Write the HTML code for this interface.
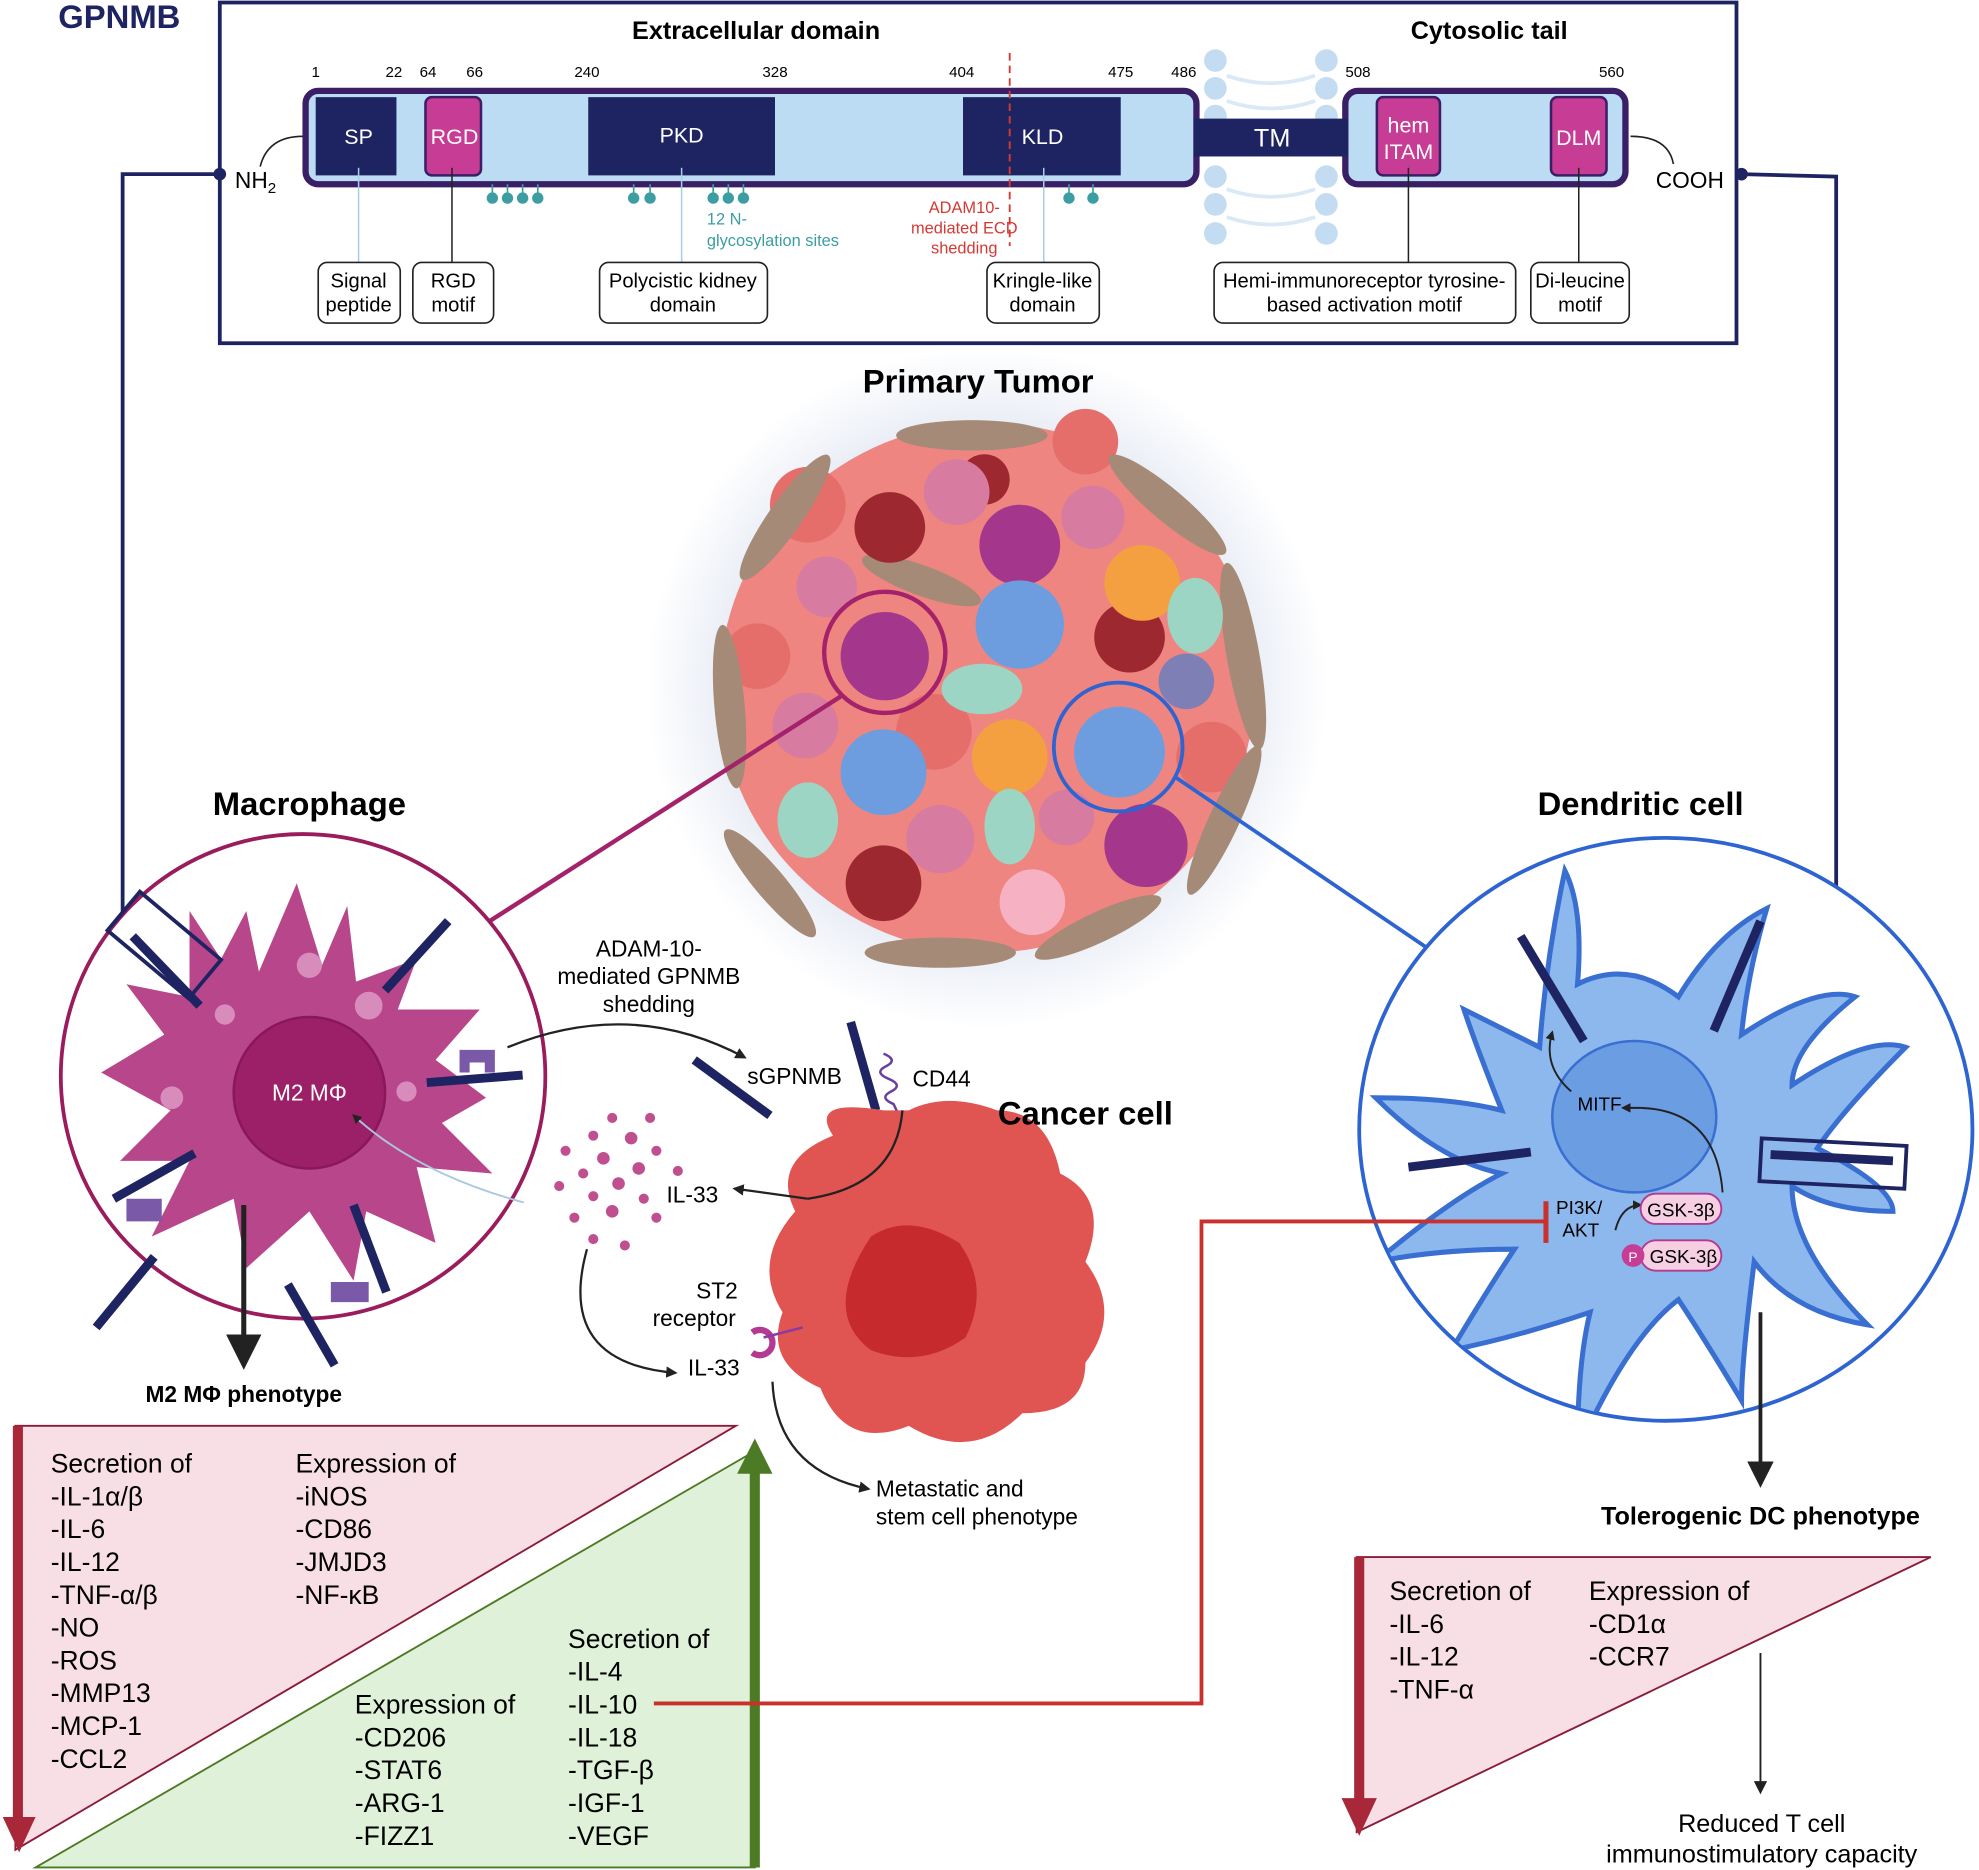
<!DOCTYPE html>
<html><head><meta charset="utf-8"><style>
html,body{margin:0;padding:0;background:#fff;}
svg{display:block;font-family:"Liberation Sans",sans-serif;}
</style></head><body>
<svg width="1979" height="1870" viewBox="0 0 1568 1482" xmlns="http://www.w3.org/2000/svg">
<defs>
<radialGradient id="glow" cx="50%" cy="50%" r="50%">
<stop offset="0.6" stop-color="#d9e0ee"/><stop offset="1" stop-color="#ffffff"/>
</radialGradient>
<marker id="ah" viewBox="0 0 10 10" refX="8" refY="5" markerWidth="7" markerHeight="7" orient="auto"><path d="M0,0L10,5L0,10z" fill="#222"/></marker>
<marker id="ahb" viewBox="0 0 10 10" refX="8" refY="5" markerWidth="5" markerHeight="5" orient="auto"><path d="M0,0L10,5L0,10z" fill="#222"/></marker>
<clipPath id="dcclip"><ellipse cx="1320" cy="895" rx="242" ry="230"/></clipPath>
<clipPath id="mclip"><circle cx="240" cy="853" r="191"/></clipPath>
</defs>

<!-- GPNMB box -->
<text x="46" y="22" font-size="26" font-weight="bold" fill="#1e2461">GPNMB</text>
<rect x="174" y="2" width="1202" height="270" fill="#fff" stroke="#1e2461" stroke-width="3"/>
<text x="599" y="31" font-size="20" font-weight="bold" text-anchor="middle">Extracellular domain</text>
<text x="1180" y="31" font-size="20" font-weight="bold" text-anchor="middle">Cytosolic tail</text>
<g font-size="12" text-anchor="middle">
<text x="250" y="61">1</text><text x="312" y="61">22</text><text x="339" y="61">64</text><text x="376" y="61">66</text><text x="465" y="61">240</text><text x="614" y="61">328</text><text x="762" y="61">404</text><text x="888" y="61">475</text><text x="938" y="61">486</text><text x="1076" y="61">508</text><text x="1277" y="61">560</text>
</g>
<g fill="#c4dcf2">
<circle cx="963" cy="48" r="9"/><circle cx="963" cy="70" r="9"/><circle cx="963" cy="92" r="9"/><circle cx="963" cy="140" r="9"/><circle cx="963" cy="162" r="9"/><circle cx="963" cy="185" r="9"/>
<circle cx="1051" cy="48" r="9"/><circle cx="1051" cy="70" r="9"/><circle cx="1051" cy="92" r="9"/><circle cx="1051" cy="140" r="9"/><circle cx="1051" cy="162" r="9"/><circle cx="1051" cy="185" r="9"/>
</g>
<g stroke="#dbe9f6" stroke-width="3" fill="none">
<path d="M972,60 Q1007,72 1042,60"/><path d="M972,80 Q1007,92 1042,80"/><path d="M972,150 Q1007,162 1042,150"/><path d="M972,172 Q1007,184 1042,172"/>
</g>
<rect x="242" y="72" width="706" height="74" rx="10" fill="#bcdcf3" stroke="#3a1f66" stroke-width="5"/>
<rect x="1066" y="72" width="222" height="74" rx="10" fill="#bcdcf3" stroke="#3a1f66" stroke-width="5"/>
<rect x="946" y="94" width="122" height="30" fill="#1e2461"/>
<text x="1008" y="116" font-size="20" fill="#fff" text-anchor="middle">TM</text>
<rect x="250" y="77" width="64" height="62" fill="#1e2461"/><text x="284" y="114" font-size="17" fill="#fff" text-anchor="middle">SP</text>
<rect x="337" y="77" width="44" height="62" rx="5" fill="#c73c94" stroke="#3a1f66" stroke-width="2"/><text x="360" y="114" font-size="17" fill="#fff" text-anchor="middle">RGD</text>
<rect x="466" y="77" width="148" height="62" fill="#1e2461"/><text x="540" y="113" font-size="17" fill="#fff" text-anchor="middle">PKD</text>
<rect x="763" y="77" width="125" height="62" fill="#1e2461"/><text x="826" y="114" font-size="17" fill="#fff" text-anchor="middle">KLD</text>
<rect x="1091" y="77" width="50" height="62" rx="5" fill="#c73c94" stroke="#3a1f66" stroke-width="2"/><text x="1116" y="105" font-size="17" fill="#fff" text-anchor="middle">hem</text><text x="1116" y="126" font-size="17" fill="#fff" text-anchor="middle">ITAM</text>
<rect x="1229" y="77" width="44" height="62" rx="5" fill="#c73c94" stroke="#3a1f66" stroke-width="2"/><text x="1251" y="115" font-size="17" fill="#fff" text-anchor="middle">DLM</text>
<line x1="800" y1="42" x2="800" y2="195" stroke="#d43a33" stroke-width="1.5" stroke-dasharray="6,4"/>
<g fill="#3c9da3" stroke="#3c9da3">
<g stroke-width="1.3"><line x1="390" y1="146" x2="390" y2="156"/><line x1="402" y1="146" x2="402" y2="156"/><line x1="414" y1="146" x2="414" y2="156"/><line x1="426" y1="146" x2="426" y2="156"/><line x1="502" y1="146" x2="502" y2="156"/><line x1="515" y1="146" x2="515" y2="156"/><line x1="565" y1="146" x2="565" y2="156"/><line x1="577" y1="146" x2="577" y2="156"/><line x1="589" y1="146" x2="589" y2="156"/><line x1="847" y1="146" x2="847" y2="156"/><line x1="866" y1="146" x2="866" y2="156"/></g>
<circle cx="390" cy="157" r="4"/><circle cx="402" cy="157" r="4"/><circle cx="414" cy="157" r="4"/><circle cx="426" cy="157" r="4"/><circle cx="502" cy="157" r="4"/><circle cx="515" cy="157" r="4"/><circle cx="565" cy="157" r="4"/><circle cx="577" cy="157" r="4"/><circle cx="589" cy="157" r="4"/><circle cx="847" cy="157" r="4"/><circle cx="866" cy="157" r="4"/>
</g>
<text x="560" y="178" font-size="13" fill="#3c9da3">12 N-</text><text x="560" y="195" font-size="13" fill="#3c9da3">glycosylation sites</text>
<text x="764" y="169" font-size="13" fill="#d43a33" text-anchor="middle">ADAM10-</text><text x="764" y="185" font-size="13" fill="#d43a33" text-anchor="middle">mediated ECD</text><text x="764" y="201" font-size="13" fill="#d43a33" text-anchor="middle">shedding</text>
<g stroke-width="1.2">
<line x1="284" y1="133" x2="284" y2="208" stroke="#a8cde6"/><line x1="540" y1="133" x2="540" y2="208" stroke="#a8cde6"/><line x1="827" y1="133" x2="827" y2="208" stroke="#a8cde6"/>
<line x1="358" y1="133" x2="358" y2="208" stroke="#222"/><line x1="1116" y1="133" x2="1116" y2="208" stroke="#222"/><line x1="1251" y1="133" x2="1251" y2="208" stroke="#222"/>
</g>
<g fill="#fff" stroke="#222" stroke-width="1.3">
<rect x="252" y="208" width="65" height="48" rx="7"/><rect x="327" y="208" width="64" height="48" rx="7"/><rect x="475" y="208" width="133" height="48" rx="7"/><rect x="782" y="208" width="89" height="48" rx="7"/><rect x="962" y="208" width="239" height="48" rx="7"/><rect x="1213" y="208" width="78" height="48" rx="7"/>
</g>
<g font-size="16" text-anchor="middle">
<text x="284" y="228">Signal</text><text x="284" y="247">peptide</text>
<text x="359" y="228">RGD</text><text x="359" y="247">motif</text>
<text x="541" y="228">Polycistic kidney</text><text x="541" y="247">domain</text>
<text x="826" y="228">Kringle-like</text><text x="826" y="247">domain</text>
<text x="1081" y="228">Hemi-immunoreceptor tyrosine-</text><text x="1081" y="247">based activation motif</text>
<text x="1252" y="228">Di-leucine</text><text x="1252" y="247">motif</text>
</g>
<text x="186" y="149" font-size="18">NH<tspan font-size="12" dy="4">2</tspan></text>
<path d="M206,132 Q212,108 240,108" fill="none" stroke="#222" stroke-width="1.3"/>
<text x="1312" y="149" font-size="18">COOH</text>
<path d="M1292,108 Q1322,108 1326,130" fill="none" stroke="#222" stroke-width="1.3"/>
<polyline points="174,138 97,138 97,726" fill="none" stroke="#1e2461" stroke-width="3"/>
<circle cx="174" cy="138" r="5" fill="#1e2461"/>
<polyline points="1380,138 1455,140 1455,904" fill="none" stroke="#1e2461" stroke-width="3"/>
<circle cx="1380" cy="138" r="5" fill="#1e2461"/>

<!-- Primary tumor -->
<circle cx="782" cy="545" r="270" fill="url(#glow)"/>
<text x="775" y="311" font-size="26" font-weight="bold" text-anchor="middle">Primary Tumor</text>
<ellipse cx="782" cy="545" rx="212" ry="210" fill="#ee8580"/>
<g fill="#e56e6b"><circle cx="640" cy="400" r="30"/><circle cx="960" cy="600" r="28"/><circle cx="600" cy="520" r="26"/><circle cx="740" cy="580" r="30"/><circle cx="860" cy="350" r="26"/></g>
<g fill="#a58a77">
<ellipse cx="770" cy="345" rx="60" ry="12"/><ellipse cx="622" cy="410" rx="60" ry="13" transform="rotate(-55 622 410)"/><ellipse cx="925" cy="400" rx="60" ry="13" transform="rotate(40 925 400)"/>
<ellipse cx="985" cy="520" rx="75" ry="13" transform="rotate(80 985 520)"/><ellipse cx="578" cy="560" rx="65" ry="12" transform="rotate(85 578 560)"/>
<ellipse cx="970" cy="650" rx="65" ry="12" transform="rotate(-65 970 650)"/><ellipse cx="610" cy="700" rx="55" ry="12" transform="rotate(50 610 700)"/>
<ellipse cx="870" cy="735" rx="55" ry="12" transform="rotate(-25 870 735)"/><ellipse cx="745" cy="755" rx="60" ry="12"/><ellipse cx="730" cy="460" rx="50" ry="12" transform="rotate(20 730 460)"/>
</g>
<g fill="#9e2830">
<circle cx="705" cy="418" r="28"/><circle cx="895" cy="505" r="28"/><circle cx="700" cy="700" r="30"/><circle cx="780" cy="380" r="20"/>
</g>
<g fill="#d77ba0"><circle cx="758" cy="390" r="26"/><circle cx="866" cy="410" r="25"/><circle cx="655" cy="465" r="24"/><circle cx="638" cy="575" r="26"/><circle cx="745" cy="665" r="27"/><circle cx="845" cy="648" r="22"/></g>
<circle cx="818" cy="715" r="26" fill="#f6b2c3"/><circle cx="940" cy="540" r="22" fill="#7d7fb5"/>
<g fill="#f4a040"><circle cx="905" cy="462" r="30"/><circle cx="800" cy="600" r="30"/></g>
<g fill="#a4378c"><circle cx="808" cy="432" r="32"/><circle cx="701" cy="520" r="35"/><circle cx="908" cy="670" r="33"/></g>
<g fill="#6d9ddf"><circle cx="808" cy="495" r="35"/><circle cx="700" cy="612" r="34"/><circle cx="887" cy="596" r="36"/></g>
<g fill="#9dd5c5"><ellipse cx="947" cy="488" rx="22" ry="30"/><ellipse cx="778" cy="546" rx="32" ry="20"/><ellipse cx="640" cy="650" rx="24" ry="30"/><ellipse cx="800" cy="655" rx="20" ry="30"/></g>
<circle cx="701" cy="517" r="48" fill="none" stroke="#a4226a" stroke-width="3.5"/>
<circle cx="886" cy="592" r="51" fill="none" stroke="#2e64d2" stroke-width="3"/>
<line x1="666" y1="552" x2="380" y2="735" stroke="#a4226a" stroke-width="3.5"/>
<line x1="930" y1="615" x2="1132" y2="752" stroke="#2e64d2" stroke-width="3"/>

<!-- Macrophage -->
<text x="245" y="646" font-size="26" font-weight="bold" text-anchor="middle">Macrophage</text>
<circle cx="240" cy="853" r="192" fill="#fff" stroke="#9a1c5c" stroke-width="3"/>
<g clip-path="url(#mclip)">
<path d="M150,722 L175,760 L195,722 L205,770 L235,700 L255,765 L275,718 L282,778 L330,760 L315,800 L380,800 L345,840 L385,870 L350,890 L390,930 L330,925 L345,985 L290,960 L280,1015 L245,960 L195,1005 L185,950 L120,980 L150,920 L95,920 L135,880 L80,850 L130,820 L100,780 L150,790 Z" fill="#b8468a"/>
</g>
<circle cx="245" cy="866" r="60" fill="#9c2068" stroke="#8a1858" stroke-width="2"/>
<text x="245" y="872" font-size="18" fill="#fff" text-anchor="middle">M2 MΦ</text>
<g fill="#d88cbb"><circle cx="245" cy="765" r="10"/><circle cx="292" cy="797" r="11"/><circle cx="322" cy="865" r="8"/><circle cx="136" cy="870" r="9"/><circle cx="178" cy="804" r="8"/></g>
<rect x="88" y="729" width="84" height="40" fill="none" stroke="#1e2461" stroke-width="3" transform="rotate(40 130 749)"/>
<g stroke="#1e2461" stroke-width="7">
<line x1="105" y1="742" x2="158" y2="797"/><line x1="305" y1="785" x2="355" y2="730"/><line x1="338" y1="858" x2="414" y2="852"/><line x1="90" y1="950" x2="154" y2="914"/><line x1="76" y1="1052" x2="122" y2="996"/><line x1="280" y1="955" x2="306" y2="1024"/><line x1="228" y1="1018" x2="265" y2="1082"/>
</g>
<g fill="#7a5aa8"><path d="M364,832h28v18h-8v-8h-12v8h-8z"/><path d="M100,950h28v18h-28z"/><path d="M262,1016h30v16h-30z"/></g>
<line x1="193" y1="955" x2="193" y2="1080" stroke="#222" stroke-width="4" marker-end="url(#ah)"/>
<text x="193" y="1111" font-size="18" font-weight="bold" text-anchor="middle">M2 MΦ phenotype</text>

<!-- middle -->
<g font-size="18" text-anchor="middle"><text x="514" y="758">ADAM-10-</text><text x="514" y="780">mediated GPNMB</text><text x="514" y="802">shedding</text></g>
<path d="M402,830 Q500,790 590,838" fill="none" stroke="#222" stroke-width="1.8" marker-end="url(#ahb)"/>
<line x1="550" y1="840" x2="610" y2="884" stroke="#1e2461" stroke-width="7"/>
<text x="592" y="859" font-size="18">sGPNMB</text>
<line x1="674" y1="810" x2="694" y2="880" stroke="#1e2461" stroke-width="7"/>
<path d="M700,835 q12,5 2,10 q-10,5 2,10 q12,5 2,10 q-10,5 2,10 l14,30 l12,20" fill="none" stroke="#6a3fa0" stroke-width="2"/>
<text x="723" y="861" font-size="18">CD44</text>
<path d="M700,880 Q640,870 660,900 Q610,920 630,960 Q595,1000 620,1040 Q605,1080 650,1100 Q670,1150 720,1130 Q770,1160 810,1120 Q860,1120 860,1080 Q890,1040 860,1000 Q880,950 840,930 Q830,880 790,880 Q750,865 720,880 Z" fill="#e05552"/>
<path d="M690,980 Q720,960 760,985 Q785,1020 765,1060 Q730,1085 690,1070 Q650,1040 690,980 Z" fill="#c72a2c"/>
<text x="860" y="891" font-size="26" font-weight="bold" text-anchor="middle">Cancer cell</text>
<path d="M715,880 Q710,940 640,950" fill="none" stroke="#222" stroke-width="1.8"/>
<path d="M640,950 L582,942" stroke="#222" stroke-width="1.8" marker-end="url(#ahb)"/>
<text x="528" y="953" font-size="18">IL-33</text>
<g fill="#c04f90">
<circle cx="485" cy="886" r="4"/><circle cx="515" cy="886" r="4"/><circle cx="470" cy="900" r="4"/><circle cx="500" cy="902" r="5"/><circle cx="520" cy="912" r="4"/><circle cx="448" cy="912" r="4"/><circle cx="478" cy="918" r="5"/><circle cx="506" cy="926" r="5"/><circle cx="462" cy="930" r="4"/><circle cx="490" cy="938" r="5"/><circle cx="443" cy="940" r="4"/><circle cx="470" cy="948" r="4"/><circle cx="510" cy="950" r="4"/><circle cx="455" cy="965" r="4"/><circle cx="485" cy="960" r="5"/><circle cx="520" cy="965" r="4"/><circle cx="470" cy="982" r="4"/><circle cx="495" cy="987" r="4"/><circle cx="537" cy="928" r="4"/>
</g>
<path d="M415,953 Q330,930 280,884" fill="none" stroke="#aac8e0" stroke-width="1.5" marker-end="url(#ahb)"/>
<g font-size="18" text-anchor="middle"><text x="568" y="1029">ST2</text><text x="550" y="1051">receptor</text></g>
<path d="M596,1056 a10,10 0 1 1 0,16" fill="none" stroke="#b33a90" stroke-width="5"/>
<line x1="605" y1="1060" x2="636" y2="1052" stroke="#8a3aa0" stroke-width="2"/>
<path d="M465,990 Q440,1080 535,1088" fill="none" stroke="#222" stroke-width="1.8" marker-end="url(#ahb)"/>
<text x="545" y="1090" font-size="18">IL-33</text>
<path d="M612,1095 Q615,1165 688,1180" fill="none" stroke="#222" stroke-width="1.8" marker-end="url(#ahb)"/>
<text x="694" y="1186" font-size="18">Metastatic and</text><text x="694" y="1208" font-size="18">stem cell phenotype</text>

<!-- Macrophage triangles -->
<polygon points="12,1130 583,1130 12,1466" fill="#f8dfe5" stroke="#8a1c3a" stroke-width="1.5"/>
<polygon points="28,1480 598,1150 598,1480" fill="#dff1d8" stroke="#4d7a24" stroke-width="1.5"/>
<line x1="14" y1="1130" x2="14" y2="1445" stroke="#a8283a" stroke-width="8"/>
<polygon points="2,1440 28,1440 15,1468" fill="#a8283a"/>
<line x1="598" y1="1480" x2="598" y2="1165" stroke="#4d7a24" stroke-width="8"/>
<polygon points="584,1168 612,1168 598,1140" fill="#4d7a24"/>
<g font-size="21">
<text x="40" y="1167">Secretion of</text><text x="40" y="1193">-IL-1α/β</text><text x="40" y="1219">-IL-6</text><text x="40" y="1245">-IL-12</text><text x="40" y="1271">-TNF-α/β</text><text x="40" y="1297">-NO</text><text x="40" y="1323">-ROS</text><text x="40" y="1349">-MMP13</text><text x="40" y="1375">-MCP-1</text><text x="40" y="1401">-CCL2</text>
<text x="234" y="1167">Expression of</text><text x="234" y="1193">-iNOS</text><text x="234" y="1219">-CD86</text><text x="234" y="1245">-JMJD3</text><text x="234" y="1271">-NF-κB</text>
<text x="450" y="1306">Secretion of</text><text x="450" y="1332">-IL-4</text><text x="450" y="1358">-IL-10</text><text x="450" y="1384">-IL-18</text><text x="450" y="1410">-TGF-β</text><text x="450" y="1436">-IGF-1</text><text x="450" y="1462">-VEGF</text>
<text x="281" y="1358">Expression of</text><text x="281" y="1384">-CD206</text><text x="281" y="1410">-STAT6</text><text x="281" y="1436">-ARG-1</text><text x="281" y="1462">-FIZZ1</text>
</g>

<!-- Dendritic cell -->
<text x="1300" y="646" font-size="26" font-weight="bold" text-anchor="middle">Dendritic cell</text>
<ellipse cx="1320" cy="895" rx="243" ry="231" fill="#fff" stroke="#2e64d2" stroke-width="3"/>
<g clip-path="url(#dcclip)">
<path d="M1240,690 Q1255,720 1250,780 Q1290,760 1330,790 Q1360,740 1400,720 Q1385,770 1380,820 Q1440,780 1470,790 Q1420,830 1420,860 Q1480,820 1510,830 Q1460,880 1440,910 Q1500,940 1500,960 Q1450,960 1420,940 Q1420,990 1480,1050 Q1420,1040 1390,1000 Q1380,1080 1380,1110 Q1350,1060 1330,1030 Q1290,1060 1250,1150 Q1250,1080 1260,1040 Q1200,1060 1150,1070 Q1180,1020 1200,990 Q1140,990 1090,1000 Q1150,950 1190,930 Q1140,920 1090,870 Q1150,870 1190,880 Q1170,830 1160,800 Q1200,820 1220,830 Q1225,760 1240,690 Z" fill="#8db8ee" stroke="#3a6fd2" stroke-width="4"/>
</g>
<ellipse cx="1295" cy="885" rx="65" ry="60" fill="#6b9de3" stroke="#3a6fd2" stroke-width="2"/>
<g stroke="#1e2461" stroke-width="7">
<line x1="1205" y1="742" x2="1255" y2="825"/><line x1="1395" y1="730" x2="1358" y2="817"/><line x1="1116" y1="925" x2="1213" y2="913"/>
</g>
<rect x="1395" y="905" width="115" height="34" fill="none" stroke="#1e2461" stroke-width="3" transform="rotate(3 1450 922)"/>
<line x1="1403" y1="915" x2="1500" y2="920" stroke="#1e2461" stroke-width="7"/>
<text x="1250" y="880" font-size="15">MITF</text>
<path d="M1300,878 L1286,878" stroke="#222" stroke-width="1.5" marker-end="url(#ahb)"/>
<path d="M1300,878 Q1360,880 1365,945" fill="none" stroke="#222" stroke-width="1.5"/>
<path d="M1245,865 Q1222,845 1230,818" fill="none" stroke="#222" stroke-width="1.5" marker-end="url(#ahb)"/>
<text x="1233" y="962" font-size="15">PI3K/</text><text x="1238" y="980" font-size="15">AKT</text>
<path d="M1280,975 Q1285,955 1300,955" fill="none" stroke="#222" stroke-width="1.5" marker-end="url(#ahb)"/>
<rect x="1300" y="946" width="64" height="24" rx="12" fill="#f6d0e2" stroke="#b33a90" stroke-width="1.5"/>
<text x="1332" y="964" font-size="15" text-anchor="middle">GSK-3β</text>
<rect x="1300" y="983" width="64" height="24" rx="12" fill="#f6d0e2" stroke="#b33a90" stroke-width="1.5"/>
<text x="1334" y="1001" font-size="15" text-anchor="middle">GSK-3β</text>
<circle cx="1294" cy="995" r="9" fill="#c73c94"/><text x="1294" y="1000" font-size="11" fill="#fff" text-anchor="middle">P</text>
<polyline points="518,1350 952,1350 952,968 1225,968" fill="none" stroke="#c8312c" stroke-width="3"/>
<line x1="1225" y1="952" x2="1225" y2="985" stroke="#c8312c" stroke-width="4"/>
<line x1="1395" y1="1040" x2="1395" y2="1175" stroke="#222" stroke-width="3" marker-end="url(#ah)"/>
<text x="1395" y="1208" font-size="20" font-weight="bold" text-anchor="middle">Tolerogenic DC phenotype</text>
<polygon points="1075,1234 1530,1234 1075,1452" fill="#f8dfe5" stroke="#8a1c3a" stroke-width="1.5"/>
<line x1="1077" y1="1234" x2="1077" y2="1430" stroke="#a8283a" stroke-width="8"/>
<polygon points="1063,1425 1091,1425 1077,1455" fill="#a8283a"/>
<g font-size="21">
<text x="1101" y="1268">Secretion of</text><text x="1101" y="1294">-IL-6</text><text x="1101" y="1320">-IL-12</text><text x="1101" y="1346">-TNF-α</text>
<text x="1259" y="1268">Expression of</text><text x="1259" y="1294">-CD1α</text><text x="1259" y="1320">-CCR7</text>
</g>
<line x1="1395" y1="1310" x2="1395" y2="1420" stroke="#222" stroke-width="1.5" marker-end="url(#ah)"/>
<text x="1396" y="1452" font-size="20" text-anchor="middle">Reduced T cell</text>
<text x="1396" y="1476" font-size="20" text-anchor="middle">immunostimulatory capacity</text>
</svg>
</body></html>
